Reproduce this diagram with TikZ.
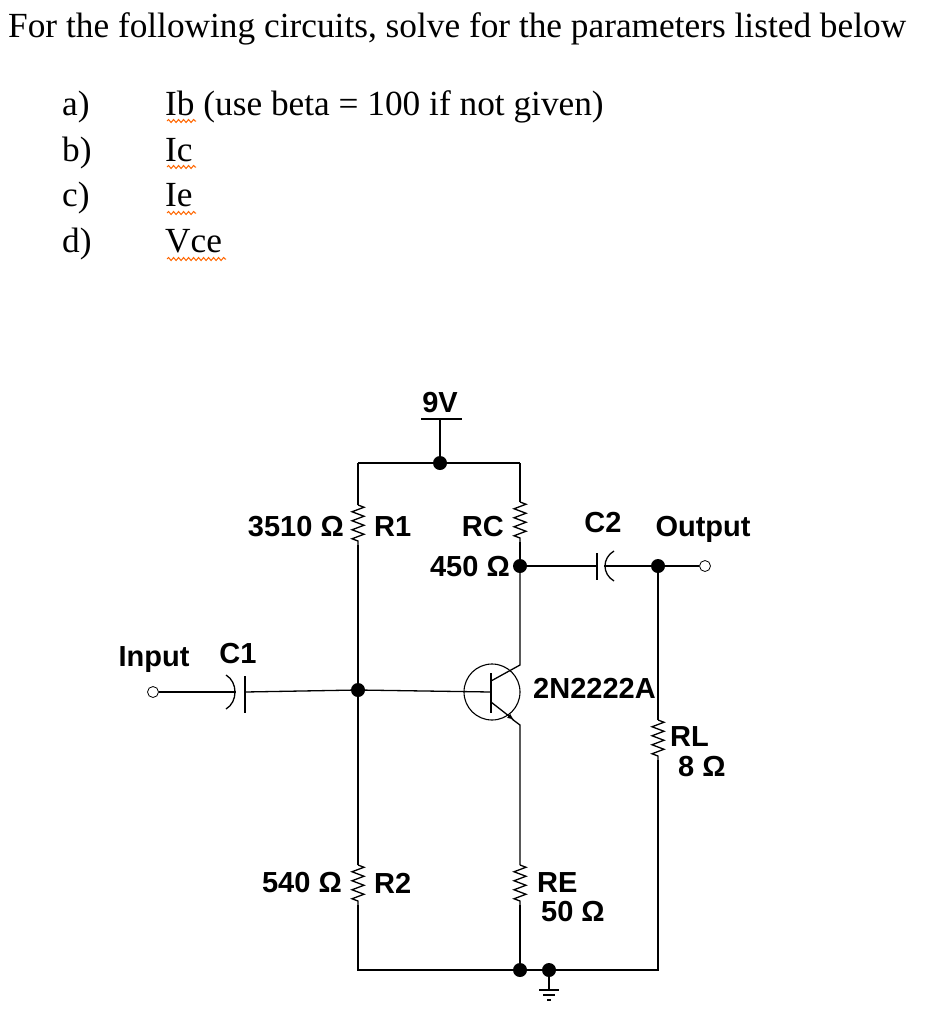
\documentclass[tikz,border=0pt]{standalone}
\usepackage{fontspec}
\setmainfont{Liberation Serif}
\newfontfamily\lab{Liberation Sans}
\usetikzlibrary{decorations.pathmorphing}
\begin{document}
\begin{tikzpicture}[x=1pt,y=-1pt,
 wire/.style={line width=1.3pt},
 res/.style={line width=1.3pt,decorate,decoration={zigzag,segment length=9pt,amplitude=6pt}},
 dot/.style={circle,fill=black,inner sep=0,minimum size=14pt},
 odot/.style={circle,draw,fill=white,inner sep=0,minimum size=11pt,line width=0.8pt},
 lb/.style={font=\lab\bfseries\fontsize{29}{32}\selectfont,inner sep=0},
 tx/.style={font=\fontsize{35.3}{38}\selectfont,inner sep=0,anchor=base west},
 sq/.style={draw=orange!80!red,line width=1pt,decorate,decoration={snake,segment length=5pt,amplitude=1.5pt}}]
\useasboundingbox (0,0) rectangle (934,1020);
\node[tx] (title) at (8,37) {For the following circuits, solve for the parameters listed below};
\node[tx] (la) at (62,115) {a)}; \node[tx] (ta) at (165,115) {Ib (use beta = 100 if not given)};
\node[tx] (lb) at (62,161) {b)}; \node[tx] (tb) at (165,161) {Ic};
\node[tx] (lc) at (62,206) {c)}; \node[tx] (tc) at (165,206) {Ie};
\node[tx] (ld) at (62,252) {d)}; \node[tx] (td) at (165,252) {Vce};
\draw[sq] (167,121)--(196,121);
\draw[sq] (167,167)--(196,167);
\draw[sq] (167,213)--(196,213);
\draw[sq] (167,259)--(226,259);
% nodes
\coordinate (vs) at (440,419);
\node[dot] (top) at (440,463) {};
\coordinate (tl) at (358,463); \coordinate (tr) at (520,463);
\node[dot] (base) at (358,690) {};
\node[dot] (col) at (520,566) {};
\node[dot] (out) at (658,566) {};
\node[odot] (outc) at (705,566) {};
\node[odot] (inc) at (153,692) {};
\node[dot] (g1) at (520,970) {};
\node[dot] (g2) at (549,970) {};
\coordinate (bl) at (358,970); \coordinate (br) at (658,970);
% supply
\draw[wire] (421,419)--(462,419);
\draw[wire] (vs)--(top);
\draw[wire] (tl)--(tr);
% R1
\draw[wire] (tl)--(358,505); \draw[res] (358,505)--(358,545); \draw[wire] (358,545)--(base);
% R2
\draw[wire] (base)--(358,865); \draw[res] (358,865)--(358,905); \draw[wire] (358,905)--(bl)--(g1);
\draw[wire] (g1)--(g2)--(br)--(658,760);
% RC
\draw[wire] (tr)--(520,502); \draw[res] (520,502)--(520,542); \draw[wire] (520,542)--(col);
% transistor
\node[circle,draw,line width=1.1pt,minimum size=56pt,inner sep=0] (q) at (492,692) {};
\draw[wire] (col)--(520,665)--(491,681);
\draw[line width=1.6pt] (491,673)--(491,713);
\draw[wire,-latex] (491,702)--(514,720);
\draw[wire] (512,719)--(520,725)--(520,865);
\draw[wire] (base)--(491,692);
% RE
\draw[res] (520,865)--(520,905); \draw[wire] (520,905)--(g1);
% ground
\draw[wire] (g2)--(549,990);
\draw[wire] (539,990)--(559,990); \draw[wire] (543,995)--(555,995); \draw[wire] (547,1000)--(551,1000);
% C2
\draw[wire] (col)--(597,566); \draw[wire] (597,553)--(597,580);
\draw[wire] (614,551) .. controls (602,558) and (602,574) .. (614,581);
\draw[wire] (604,566)--(out)--(outc);
% RL
\draw[wire] (out)--(658,720); \draw[res] (658,720)--(658,760);
% C1
\draw[wire] (inc)--(236,692);
\draw[wire] (226,675) .. controls (238,682) and (238,702) .. (226,709);
\draw[wire] (245,676)--(245,713);
\draw[wire] (245,692)--(base);
% labels
\node[lb] (v9) at (440,403) {9V};
\node[lb,anchor=east] (r1v) at (344,527) {3510 Ω};
\node[lb,anchor=west] (r1n) at (374,527) {R1};
\node[lb,anchor=east] (rcn) at (504,527) {RC};
\node[lb,anchor=east] (rcv) at (510,567) {450 Ω};
\node[lb] (c2n) at (603,523) {C2};
\node[lb] (outl) at (703,529) {Output};
\node[lb] (inl) at (154,660) {Input};
\node[lb] (c1n) at (238,654) {C1};
\node[lb,anchor=west] (qn) at (533,688) {2N2222A};
\node[lb,anchor=west] (rln) at (670,737) {RL};
\node[lb,anchor=west] (rlv) at (678,767) {8 Ω};
\node[lb,anchor=east] (r2v) at (342,883) {540 Ω};
\node[lb,anchor=west] (r2n) at (374,883) {R2};
\node[lb,anchor=west] (ren) at (537,883) {RE};
\node[lb,anchor=west] (rev) at (541,912) {50 Ω};
\end{tikzpicture}
\end{document}
